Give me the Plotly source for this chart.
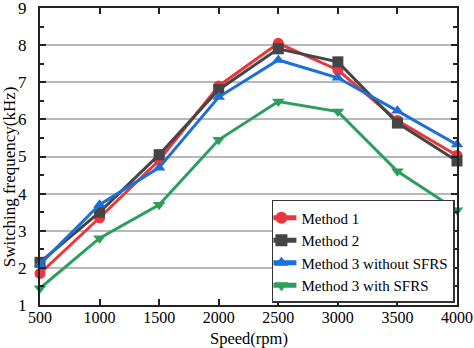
import plotly.graph_objects as go

speed = [500, 1000, 1500, 2000, 2500, 3000, 3500, 4000]
method1 = [1.85, 3.35, 4.9, 6.9, 8.05, 7.33, 5.97, 5.03]
method2 = [2.15, 3.5, 5.05, 6.8, 7.9, 7.55, 5.9, 4.88]
method3_wo = [2.1, 3.7, 4.7, 6.6, 7.6, 7.12, 6.23, 5.32]
method3_w = [1.45, 2.8, 3.7, 5.45, 6.48, 6.21, 4.6, 3.55]

names = ["Method 1", "Method 2", "Method 3 without SFRS", "Method 3 with SFRS"]
colors = ["#e8373f", "#454545", "#1c6fd8", "#2e9e5e"]
symbols = ["circle", "square", "triangle-up", "triangle-down"]
series = [method1, method2, method3_wo, method3_w]

fig = go.Figure()
for n, c, s, y in zip(names, colors, symbols, series):
    fig.add_trace(go.Scatter(x=speed, y=y, name=n, mode="lines+markers",
                             line=dict(color=c, width=3),
                             marker=dict(symbol=s, size=11, color=c),
                             cliponaxis=False))

font = "Liberation Serif, Times New Roman, serif"
fig.update_layout(
    width=474, height=348,
    margin=dict(l=40, r=17, t=8, b=43),
    paper_bgcolor="white", plot_bgcolor="white",
    font=dict(family=font, size=17, color="black"),
    showlegend=True,
    legend=dict(x=0.995, y=0.007, xanchor="right", yanchor="bottom",
                bgcolor="white", bordercolor="#333", borderwidth=1.5,
                font=dict(size=15, family=font), tracegroupgap=0,
                indentation=-12, itemsizing="constant"),
    xaxis=dict(range=[500, 4000], tickvals=speed, showgrid=False,
               showline=True, linecolor="#222", linewidth=2, mirror="allticks",
               ticks="inside", ticklen=6, tickwidth=2, tickcolor="#222",
               zeroline=False, automargin=False, tickfont=dict(size=16),
               ticklabelstandoff=-3, ticklabeloverflow="allow"),
    yaxis=dict(range=[1, 9], dtick=1, showgrid=True, gridcolor="#b8b8b8", gridwidth=1.5,
               showline=True, linecolor="#222", linewidth=2, mirror="allticks",
               ticks="inside", ticklen=6, tickwidth=2, tickcolor="#222",
               zeroline=False, automargin=False, tickfont=dict(size=17),
               ticklabelstandoff=8, ticklabeloverflow="allow",
               minor=dict(dtick=0.5, ticks="inside", ticklen=4, tickwidth=1.5,
                          tickcolor="#222", showgrid=False)),
    annotations=[
        dict(text="Switching frequency(kHz)", textangle=-90,
             xref="paper", yref="paper", x=0, y=0.43,
             xanchor="center", yanchor="middle", xshift=-31,
             showarrow=False, font=dict(size=17, family=font)),
        dict(text="Speed(rpm)", xref="paper", yref="paper", x=0.5, y=0,
             xanchor="center", yanchor="bottom", yshift=-44, borderpad=0,
             showarrow=False, font=dict(size=16.5, family=font)),
    ],
)

fig.write_html("out.html")
